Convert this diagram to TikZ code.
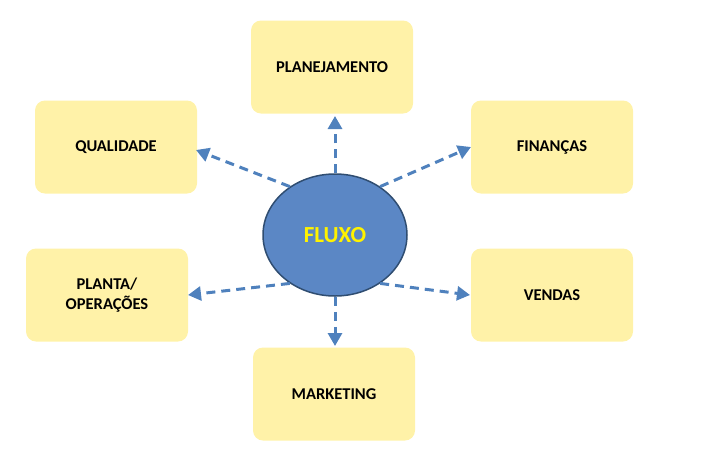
\documentclass[tikz,border=0pt]{standalone}
\usepackage{fontspec}
\setmainfont{Carlito}
\usetikzlibrary{arrows.meta,shapes.geometric}
\definecolor{boxy}{HTML}{FFF2A8}
\definecolor{blu}{HTML}{4F81BD}
\definecolor{ell}{HTML}{5B87C5}
\begin{document}
\begin{tikzpicture}[x=1pt,y=-1pt,
 box/.style={fill=boxy,rounded corners=10pt,minimum width=162pt,minimum height=93pt,inner sep=0pt,align=center,font=\fontsize{16.5}{20}\selectfont\bfseries},
 arr/.style={blu,line width=3pt,dash pattern=on 9pt off 6pt,-{Triangle[length=13pt,width=14pt]}}]
\useasboundingbox (0,0) rectangle (701,451);
\node[box] (pl) at (332,67) {PLANEJAMENTO};
\node[box] (qu) at (116,147) {QUALIDADE};
\node[box] (fi) at (552,147) {FINANÇAS};
\node[box] (po) at (107,295) {PLANTA/\\OPERAÇÕES};
\node[box] (ve) at (552,295) {VENDAS};
\node[box] (ma) at (334,394) {MARKETING};
\node[ellipse,draw=blu!60!black,line width=1.5pt,fill=ell,minimum width=144pt,minimum height=122pt,font=\fontsize{23}{27}\selectfont\bfseries,text=yellow] (fx) at (335,235) {FLUXO};
\coordinate (t1) at (335,116);
\coordinate (t2) at (196,150);
\coordinate (t3) at (471,147);
\coordinate (t4) at (188,295);
\coordinate (t5) at (470,295);
\coordinate (t6) at (335,346);
\draw[arr] (fx.north) -- (t1);
\draw[arr] (fx.133) -- (t2);
\draw[arr] (fx.47) -- (t3);
\draw[arr] (fx.-133) -- (t4);
\draw[arr] (fx.-47) -- (t5);
\draw[arr] (fx.south) -- (t6);
\end{tikzpicture}
\end{document}
